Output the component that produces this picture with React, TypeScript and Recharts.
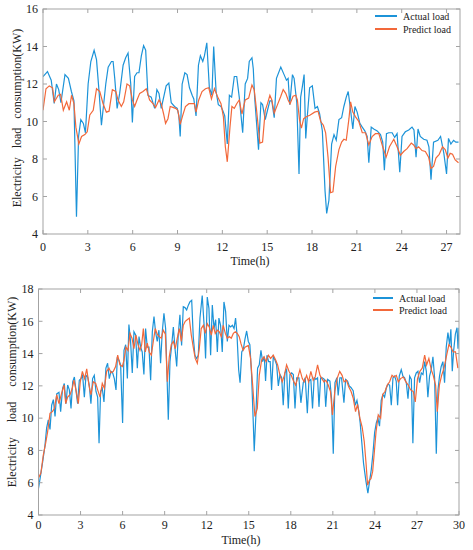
import React from 'react';
import { LineChart, Line, XAxis, YAxis, Legend } from 'recharts';

type Pt = [number, number];

// time (h), load (KW)
const topActual: Pt[] = [
  [0, 12.39], [0.3, 12.66], [0.55, 12.2], [0.75, 10.97], [0.9, 12.0], [1.05, 11.7], [1.2, 11.0], [1.47, 12.5],
  [1.7, 12.3], [1.9, 11.6], [2.07, 11.1], [2.24, 4.92], [2.38, 9.2], [2.53, 10.1], [2.7, 9.9], [2.84, 9.4],
  [3.02, 12.0], [3.2, 13.2], [3.42, 13.8], [3.58, 13.3], [3.76, 11.5], [3.91, 9.8], [4.2, 12.0], [4.36, 12.9],
  [4.58, 13.2], [4.69, 13.2], [4.8, 12.3], [4.96, 10.7], [5.13, 11.5], [5.36, 13.0], [5.53, 13.4], [5.69, 13.65],
  [5.87, 12.0], [5.98, 9.95], [6.13, 12.4], [6.29, 12.6], [6.42, 12.6], [6.58, 13.5], [6.73, 14.05], [6.87, 13.8],
  [7.02, 11.4], [7.24, 11.3], [7.47, 10.7], [7.62, 11.7], [7.76, 11.5], [7.91, 10.7], [8.24, 11.9], [8.42, 12.05],
  [8.58, 11.0], [8.8, 10.8], [8.98, 10.7], [9.09, 10.3], [9.18, 9.2], [9.31, 12.0], [9.49, 12.6], [9.64, 12.5],
  [9.8, 11.8], [9.98, 11.4], [10.09, 11.2], [10.24, 10.3], [10.4, 13.0], [10.53, 13.5], [10.69, 13.2], [10.8, 13.5],
  [10.96, 14.2], [11.13, 11.8], [11.3, 11.4], [11.42, 14.0], [11.58, 11.6], [11.73, 10.9], [11.91, 10.8], [12.02, 10.6],
  [12.16, 10.3], [12.33, 8.8], [12.47, 11.4], [12.62, 11.3], [12.8, 12.4], [12.96, 12.4], [13.13, 11.3], [13.36, 9.4],
  [13.53, 12.0], [13.69, 12.3], [13.8, 13.2], [13.98, 13.4], [14.07, 12.8], [14.16, 11.3], [14.31, 9.7], [14.42, 8.5],
  [14.58, 11.0], [14.69, 10.9], [14.87, 10.1], [15.02, 10.6], [15.18, 11.1], [15.31, 11.1], [15.47, 10.2], [15.62, 12.3],
  [15.91, 12.9], [16.13, 12.5], [16.29, 12.2], [16.4, 12.3], [16.51, 10.9], [16.69, 12.5], [16.8, 12.3], [16.98, 11.0],
  [17.13, 7.2], [17.24, 11.3], [17.35, 11.85], [17.47, 12.5], [17.58, 9.1], [17.69, 10.35], [17.84, 11.8], [18.02, 11.9],
  [18.2, 10.7], [18.36, 10.8], [18.51, 10.4], [18.69, 9.5], [18.87, 6.3], [18.98, 5.1], [19.13, 5.8], [19.31, 8.8],
  [19.47, 9.3], [19.62, 9.0], [19.8, 10.1], [19.98, 10.2], [20.13, 10.8], [20.29, 11.3], [20.42, 11.6], [20.58, 10.6],
  [20.73, 9.6], [20.87, 10.8], [21.02, 10.5], [21.2, 9.9], [21.36, 9.7], [21.53, 9.5], [21.69, 9.2], [21.8, 7.8],
  [21.96, 9.7], [22.13, 9.6], [22.36, 9.5], [22.58, 9.3], [22.73, 8.9], [22.84, 7.4], [22.98, 9.35], [23.13, 9.4],
  [23.36, 9.4], [23.53, 9.15], [23.69, 9.35], [23.87, 7.3], [24.02, 9.2], [24.24, 9.45], [24.47, 9.55], [24.69, 9.7],
  [24.82, 9.55], [24.96, 8.1], [25.09, 9.6], [25.24, 9.2], [25.47, 9.05], [25.69, 9.0], [25.82, 8.65], [25.96, 6.9],
  [26.13, 8.9], [26.42, 9.0], [26.6, 9.2], [26.82, 8.3], [27.0, 7.2], [27.13, 9.1], [27.29, 8.8], [27.47, 9.0],
  [27.62, 8.9], [27.8, 8.9],
];

const topPredict: Pt[] = [
  [0, 10.6], [0.2, 11.75], [0.42, 11.9], [0.64, 11.8], [0.76, 11.05], [1.02, 11.4], [1.18, 11.45], [1.36, 10.6],
  [1.58, 11.05], [1.76, 10.6], [1.91, 11.4], [2.07, 10.95], [2.2, 9.7], [2.4, 8.8], [2.58, 9.2], [2.8, 9.3],
  [2.96, 9.45], [3.13, 10.35], [3.36, 10.6], [3.58, 11.75], [3.8, 11.6], [4.02, 10.95], [4.24, 10.5], [4.42, 10.55],
  [4.64, 11.7], [4.87, 11.6], [5.02, 11.15], [5.24, 10.8], [5.4, 11.05], [5.62, 12.0], [5.8, 11.9], [5.98, 11.15],
  [6.13, 10.8], [6.29, 11.15], [6.47, 11.5], [6.69, 11.6], [6.91, 11.75], [7.13, 11.15], [7.36, 10.95], [7.53, 10.75],
  [7.76, 11.15], [7.91, 10.95], [8.07, 10.4], [8.2, 9.9], [8.36, 10.15], [8.51, 10.8], [8.69, 10.75], [8.87, 10.7],
  [9.02, 10.6], [9.18, 9.85], [9.36, 10.35], [9.53, 10.8], [9.76, 10.95], [9.98, 10.95], [10.13, 10.95], [10.24, 10.5],
  [10.42, 11.15], [10.64, 11.6], [10.87, 11.75], [11.09, 11.8], [11.27, 11.2], [11.47, 11.75], [11.69, 11.3], [11.91, 10.95],
  [12.07, 10.25], [12.2, 8.65], [12.33, 7.85], [12.51, 9.7], [12.64, 10.8], [12.8, 10.7], [12.96, 10.95], [13.13, 11.15],
  [13.31, 10.4], [13.53, 11.15], [13.76, 11.25], [13.98, 11.95], [14.13, 11.7], [14.29, 10.6], [14.51, 8.85], [14.69, 8.9],
  [14.87, 10.6], [15.02, 10.95], [15.18, 11.4], [15.31, 11.15], [15.47, 10.45], [15.69, 10.9], [15.91, 11.35], [16.07, 11.7],
  [16.24, 11.5], [16.4, 11.15], [16.53, 10.95], [16.73, 11.35], [16.91, 11.4], [17.02, 11.15], [17.16, 10.1], [17.29, 9.65],
  [17.44, 10.15], [17.62, 10.25], [17.88, 10.35], [18.17, 10.5], [18.4, 10.55], [18.58, 10.0], [18.76, 9.8], [18.91, 9.4],
  [19.07, 8.1], [19.24, 6.2], [19.4, 6.25], [19.58, 7.6], [19.8, 8.5], [19.98, 8.9], [20.13, 9.05], [20.29, 9.0],
  [20.47, 10.15], [20.58, 11.05], [20.73, 10.5], [20.91, 10.25], [21.13, 10.0], [21.36, 9.4], [21.58, 9.4], [21.8, 8.75],
  [22.02, 9.2], [22.24, 9.35], [22.47, 9.35], [22.73, 8.65], [22.96, 8.1], [23.18, 8.65], [23.47, 9.05], [23.69, 8.65],
  [23.91, 8.2], [24.13, 8.4], [24.36, 8.55], [24.64, 8.85], [24.8, 8.75], [24.96, 8.55], [25.13, 8.65], [25.36, 8.45],
  [25.58, 8.4], [25.8, 8.1], [25.96, 7.5], [26.13, 7.6], [26.29, 8.05], [26.51, 8.25], [26.73, 8.65], [26.91, 8.5],
  [27.09, 8.05], [27.24, 8.3], [27.4, 8.25], [27.58, 7.95], [27.8, 7.8],
];

// lower panel
const bottomActual: Pt[] = [
  [0, 5.65], [0.12, 6.3], [0.3, 7.3], [0.46, 8.3], [0.58, 9.4], [0.7, 9.9], [0.82, 9.3], [0.94, 10.8],
  [1.06, 11.15], [1.18, 10.1], [1.3, 11.5], [1.46, 11.6], [1.58, 10.4], [1.72, 11.85], [1.84, 12.15], [1.96, 10.9],
  [2.08, 12.05], [2.2, 11.75], [2.32, 10.6], [2.44, 12.25], [2.56, 12.55], [2.67, 11.75], [2.79, 10.9], [2.91, 12.35],
  [3.03, 12.45], [3.15, 12.65], [3.27, 11.3], [3.39, 12.65], [3.51, 12.55], [3.62, 12.05], [3.74, 10.9], [3.86, 12.45],
  [3.98, 12.65], [4.1, 11.65], [4.22, 11.3], [4.32, 8.45], [4.43, 11.65], [4.55, 11.85], [4.67, 11.0], [4.81, 13.1],
  [4.93, 13.4], [5.05, 12.45], [5.17, 12.9], [5.29, 12.8], [5.41, 12.45], [5.53, 11.75], [5.62, 13.7], [5.74, 13.6],
  [5.86, 13.3], [6.0, 9.7], [6.1, 14.2], [6.22, 14.55], [6.34, 12.45], [6.45, 15.8], [6.57, 14.75], [6.69, 12.8],
  [6.81, 15.35], [6.93, 15.15], [7.05, 13.1], [7.17, 15.05], [7.29, 14.4], [7.4, 14.1], [7.52, 12.7], [7.64, 15.55],
  [7.76, 14.4], [7.88, 14.4], [8.0, 12.35], [8.12, 15.35], [8.24, 16.3], [8.35, 15.35], [8.47, 14.75], [8.59, 15.45],
  [8.71, 13.4], [8.83, 15.35], [8.95, 16.5], [9.07, 15.55], [9.26, 9.9], [9.38, 13.5], [9.5, 14.5], [9.62, 15.65],
  [9.74, 14.3], [9.86, 13.2], [9.97, 15.15], [10.09, 16.4], [10.21, 14.5], [10.33, 16.9], [10.45, 16.85], [10.57, 16.7],
  [10.69, 17.0], [10.8, 17.2], [10.93, 17.3], [11.04, 15.05], [11.16, 13.9], [11.28, 13.7], [11.4, 13.9], [11.52, 16.2],
  [11.68, 17.6], [11.83, 15.55], [11.92, 13.7], [12.04, 17.5], [12.16, 16.8], [12.28, 13.9], [12.4, 17.0], [12.52, 15.55],
  [12.64, 16.1], [12.76, 14.1], [12.87, 16.2], [12.99, 15.75], [13.11, 14.1], [13.23, 17.2], [13.35, 16.6], [13.47, 14.75],
  [13.59, 15.75], [13.71, 15.65], [13.83, 15.75], [13.95, 15.55], [14.06, 16.2], [14.16, 15.2], [14.28, 13.0], [14.38, 12.2],
  [14.5, 14.1], [14.62, 14.3], [14.73, 14.9], [14.85, 15.4], [14.97, 14.75], [15.08, 14.55], [15.2, 12.7], [15.32, 9.8],
  [15.39, 7.95], [15.51, 10.2], [15.63, 13.1], [15.75, 13.3], [15.87, 14.2], [15.99, 13.5], [16.11, 13.8], [16.2, 12.3],
  [16.3, 13.9], [16.42, 13.5], [16.53, 13.5], [16.63, 11.75], [16.75, 13.8], [16.87, 13.6], [16.99, 13.3], [17.11, 12.0],
  [17.23, 12.7], [17.35, 12.5], [17.46, 10.8], [17.58, 12.8], [17.7, 13.0], [17.82, 10.6], [17.94, 12.7], [18.06, 12.8],
  [18.18, 12.7], [18.3, 10.6], [18.42, 12.5], [18.58, 12.5], [18.72, 10.95], [18.89, 12.2], [19.03, 12.5], [19.18, 10.3],
  [19.29, 12.3], [19.43, 12.4], [19.55, 10.6], [19.67, 12.5], [19.79, 12.4], [19.91, 12.5], [20.01, 10.7], [20.13, 12.5],
  [20.25, 12.5], [20.39, 12.4], [20.49, 10.7], [20.63, 12.4], [20.79, 12.3], [20.91, 11.2], [21.03, 7.8], [21.15, 12.2],
  [21.29, 12.5], [21.38, 11.4], [21.5, 12.5], [21.62, 12.5], [21.79, 10.95], [21.91, 12.4], [22.05, 12.3], [22.17, 12.0],
  [22.29, 11.9], [22.45, 11.7], [22.6, 10.8], [22.72, 11.1], [22.84, 10.5], [22.95, 9.7], [23.07, 8.45], [23.19, 7.2],
  [23.36, 6.1], [23.5, 5.35], [23.62, 6.1], [23.74, 6.8], [23.86, 7.8], [23.98, 9.1], [24.1, 9.7], [24.21, 10.0],
  [24.33, 9.5], [24.45, 11.1], [24.57, 11.45], [24.69, 11.3], [24.81, 11.85], [24.93, 12.1], [25.05, 12.05], [25.17, 10.8],
  [25.29, 12.5], [25.41, 12.6], [25.52, 12.3], [25.62, 10.8], [25.74, 12.6], [25.88, 13.0], [26.0, 12.6], [26.12, 12.5],
  [26.24, 12.2], [26.36, 11.2], [26.48, 12.6], [26.6, 12.4], [26.71, 8.45], [26.83, 12.5], [26.95, 12.8], [27.07, 12.9],
  [27.19, 12.2], [27.31, 12.8], [27.43, 12.7], [27.55, 13.5], [27.67, 12.9], [27.78, 11.3], [27.9, 12.6], [28.02, 13.0],
  [28.14, 13.8], [28.26, 12.5], [28.38, 7.8], [28.5, 11.75], [28.61, 12.6], [28.73, 13.2], [28.85, 13.5], [28.97, 12.2],
  [29.09, 14.4], [29.21, 15.3], [29.33, 14.55], [29.42, 15.5], [29.52, 12.9], [29.62, 14.2], [29.74, 15.2], [29.86, 15.6],
  [29.93, 14.3], [30, 15.6],
];

const bottomPredict: Pt[] = [
  [0, 6.3], [0.17, 6.6], [0.34, 7.7], [0.51, 8.45], [0.65, 9.15], [0.82, 10.3], [0.99, 10.4], [1.13, 10.6],
  [1.3, 11.45], [1.46, 10.9], [1.65, 11.55], [1.82, 12.05], [1.94, 10.9], [2.08, 11.3], [2.25, 11.45], [2.41, 11.85],
  [2.53, 12.35], [2.67, 11.75], [2.84, 10.9], [2.98, 12.25], [3.13, 12.9], [3.29, 12.45], [3.44, 13.05], [3.6, 12.05],
  [3.74, 11.45], [3.91, 12.25], [4.08, 12.15], [4.22, 11.75], [4.39, 11.3], [4.55, 12.15], [4.7, 11.85], [4.86, 12.9],
  [5.03, 13.1], [5.17, 12.8], [5.34, 12.9], [5.5, 13.2], [5.65, 13.9], [5.81, 13.3], [5.98, 13.2], [6.1, 13.6],
  [6.24, 14.4], [6.38, 14.2], [6.53, 15.25], [6.67, 14.95], [6.81, 14.3], [6.95, 15.15], [7.1, 14.55], [7.24, 14.2],
  [7.36, 14.55], [7.48, 15.55], [7.62, 14.1], [7.76, 14.65], [7.9, 14.1], [8.05, 13.9], [8.19, 14.75], [8.33, 15.55],
  [8.47, 15.2], [8.62, 15.05], [8.76, 14.95], [8.9, 15.45], [9.05, 15.2], [9.19, 12.25], [9.33, 13.8], [9.47, 14.55],
  [9.62, 14.75], [9.76, 14.3], [9.9, 14.95], [10.05, 15.55], [10.19, 14.75], [10.33, 15.75], [10.47, 16.0], [10.61, 16.1],
  [10.76, 16.2], [10.9, 15.15], [11.04, 14.4], [11.18, 13.7], [11.33, 13.4], [11.47, 14.3], [11.61, 15.55], [11.76, 15.75],
  [11.9, 15.25], [12.04, 15.85], [12.18, 15.65], [12.33, 15.15], [12.47, 15.75], [12.61, 15.25], [12.76, 15.45], [12.9, 15.35],
  [13.04, 15.05], [13.18, 15.75], [13.33, 15.25], [13.47, 14.95], [13.61, 15.05], [13.75, 14.95], [13.9, 15.25], [14.04, 15.35],
  [14.18, 15.25], [14.32, 15.05], [14.45, 14.6], [14.6, 14.2], [14.73, 14.4], [14.97, 14.5], [15.13, 13.7], [15.28, 12.05],
  [15.44, 10.1], [15.61, 10.6], [15.75, 12.65], [15.92, 13.6], [16.09, 13.8], [16.23, 13.5], [16.4, 13.9], [16.56, 13.7],
  [16.75, 13.9], [16.92, 13.6], [17.06, 13.3], [17.23, 12.65], [17.39, 12.25], [17.54, 12.65], [17.7, 13.3], [17.87, 12.9],
  [18.03, 12.65], [18.17, 12.35], [18.34, 12.05], [18.48, 12.45], [18.65, 13.0], [18.82, 12.45], [18.96, 12.25], [19.13, 12.65],
  [19.27, 12.25], [19.43, 12.9], [19.6, 12.35], [19.74, 12.55], [19.91, 13.3], [20.08, 12.65], [20.22, 12.45], [20.36, 12.25],
  [20.5, 12.35], [20.67, 12.05], [20.83, 11.65], [20.97, 10.2], [21.14, 11.65], [21.3, 12.45], [21.49, 12.9], [21.66, 12.65],
  [21.8, 12.25], [21.97, 12.35], [22.13, 11.95], [22.3, 11.65], [22.45, 11.25], [22.62, 10.4], [22.76, 10.85], [22.93, 10.0],
  [23.09, 9.45], [23.24, 8.55], [23.36, 7.3], [23.48, 5.85], [23.6, 6.15], [23.72, 6.25], [23.84, 6.7], [23.96, 7.9],
  [24.08, 9.15], [24.24, 10.2], [24.41, 10.0], [24.55, 11.45], [24.72, 11.65], [24.88, 12.05], [25.05, 12.25], [25.22, 12.65],
  [25.36, 12.55], [25.53, 12.65], [25.67, 12.25], [25.83, 12.45], [26.03, 12.55], [26.21, 12.25], [26.38, 12.05], [26.55, 11.75],
  [26.74, 11.65], [26.88, 11.0], [27.04, 12.45], [27.21, 12.9], [27.38, 13.1], [27.55, 13.9], [27.69, 13.3], [27.85, 13.7],
  [28.02, 13.0], [28.16, 12.65], [28.33, 12.05], [28.45, 10.4], [28.6, 12.05], [28.76, 12.65], [28.93, 13.1], [29.12, 13.9],
  [29.28, 14.55], [29.42, 14.4], [29.58, 14.1], [29.75, 14.1], [29.92, 13.1],
];

const topXTicks = [0, 3, 6, 9, 12, 15, 18, 21, 24, 27];
const topYTicks = [4, 6, 8, 10, 12, 14, 16];
const bottomXTicks = [0, 3, 6, 9, 12, 15, 18, 21, 24, 27, 30];
const bottomYTicks = [4, 6, 8, 10, 12, 14, 16, 18];
const seriesNames = ['Actual load', 'Predict load'];

const FONT = '"Liberation Serif", "Times New Roman", serif';
const BLUE = '#1c93d8';
const ORANGE = '#f2683a';
const FRAME = '#a3a3a3';
const W = 473;
const H = 275;
const YW = 30;
const XH = 20;

const rows = (pts: Pt[]) => pts.map(([t, v]) => ({ t, v }));

function Panel({ pageTop, plot, xMax, yMax, xTicks, yTicks, actual, predict, xLabelY, tickBase, yTitle, xTitle, legend }: any) {
  const margin = { top: plot.top, right: W - plot.right, left: plot.left - YW, bottom: H - plot.bottom - XH };

  // ticks point inward, on both the bottom/top and left/right edges of the box
  const BottomTick = ({ x, y, payload }: any) => (
    <g>
      <line x1={x} x2={x} y1={y} y2={y - 4} stroke={FRAME} />
      <line x1={x} x2={x} y1={plot.top} y2={plot.top + 4} stroke={FRAME} />
      <text x={x} y={y + tickBase} textAnchor="middle" fontSize={12} fontFamily={FONT} fill="#222">{payload.value}</text>
    </g>
  );
  const LeftTick = ({ x, y, payload }: any) => (
    <g>
      <line x1={x} x2={x + 4} y1={y} y2={y} stroke={FRAME} />
      <line x1={plot.right} x2={plot.right - 4} y1={y} y2={y} stroke={FRAME} />
      <text x={x - 5} y={y + 4.3} textAnchor="end" fontSize={12} fontFamily={FONT} fill="#222">{payload.value}</text>
    </g>
  );

  const LegendBox = () => (
    <svg width={95} height={30} style={{ display: 'block' }}>
      {seriesNames.map((name, i) => (
        <g key={name}>
          <line x1={0} x2={legend.len} y1={5 + i * legend.gap} y2={5 + i * legend.gap} stroke={i === 0 ? BLUE : ORANGE} strokeWidth={2} />
          <text x={legend.len + 6} y={8.5 + i * legend.gap} fontSize={10} fontFamily={FONT} fill="#222">{name}</text>
        </g>
      ))}
    </svg>
  );

  return (
    <div style={{ position: 'absolute', left: 0, top: pageTop, width: W, height: H }}>
      <LineChart width={W} height={H} margin={margin}>
        <XAxis dataKey="t" type="number" domain={[0, xMax]} ticks={xTicks} interval={0}
          allowDataOverflow height={XH} tickSize={0} tickMargin={0} tickLine={false}
          axisLine={false} tick={<BottomTick />} />
        <YAxis type="number" domain={[4, yMax]} ticks={yTicks} interval={0} allowDataOverflow
          width={YW} tickSize={0} tickMargin={0} tickLine={false} axisLine={false} tick={<LeftTick />} />
        <Legend layout="vertical" align="center" verticalAlign="middle"
          wrapperStyle={{ position: 'absolute', left: legend.x, top: legend.y, width: 95, height: 30 }}
          content={() => <LegendBox />} />
        <Line data={rows(actual)} dataKey="v" name={seriesNames[0]} stroke={BLUE}
          strokeWidth={1.2} dot={false} isAnimationActive={false} />
        <Line data={rows(predict)} dataKey="v" name={seriesNames[1]} stroke={ORANGE}
          strokeWidth={1.2} dot={false} isAnimationActive={false} />
      </LineChart>
      <svg width={W} height={H} style={{ position: 'absolute', left: 0, top: 0, pointerEvents: 'none' }}>
        <rect x={plot.left} y={plot.top} width={plot.right - plot.left} height={plot.bottom - plot.top}
          fill="none" stroke={FRAME} strokeWidth={1} />
        <text x={xTitle.x} y={xLabelY} textAnchor="middle" fontSize={12} fontFamily={FONT} fill="#222">Time(h)</text>
        <text transform={`translate(${yTitle.x},${yTitle.y}) rotate(-90)`} textAnchor="middle" fontSize={12}
          fontFamily={FONT} fill="#222" style={{ wordSpacing: yTitle.ws }}>
          Electricity load consumption(KW)
        </text>
      </svg>
    </div>
  );
}

export default function App() {
  return (
    <div style={{ position: 'absolute', left: 0, top: 0, width: W, height: 550, background: '#fff' }}>
      <Panel pageTop={0} plot={{ left: 43, top: 9, right: 460, bottom: 234 }} xMax={27.9} yMax={16}
        xTicks={topXTicks} yTicks={topYTicks} actual={topActual} predict={topPredict}
        tickBase={17} xLabelY={265} xTitle={{ x: 250 }} yTitle={{ x: 21, y: 118, ws: 6 }}
        legend={{ x: 375, y: 11, len: 22, gap: 13 }} />
      <Panel pageTop={275} plot={{ left: 38.5, top: 14, right: 459, bottom: 240 }} xMax={30} yMax={18}
        xTicks={bottomXTicks} yTicks={bottomYTicks} actual={bottomActual} predict={bottomPredict}
        tickBase={14} xLabelY={269} xTitle={{ x: 241 }} yTitle={{ x: 16, y: 117, ws: 12 }}
        legend={{ x: 373, y: 18, len: 20, gap: 12 }} />
    </div>
  );
}
